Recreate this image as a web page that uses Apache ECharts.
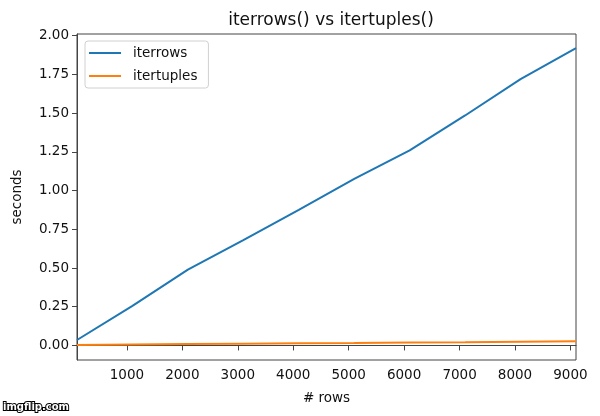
<!DOCTYPE html>
<html>
<head>
<meta charset="utf-8">
<script src="https://cdn.jsdelivr.net/npm/echarts@6/dist/echarts.min.js"></script>
<style>html,body{margin:0;padding:0;background:#fff;}#c{width:600px;height:416px;}</style>
</head>
<body>
<div id="c"></div>
<script>
var rows = [100, 1100, 2100, 3100, 4100, 5100, 6100, 7100, 8100, 9100];
var iterrows = [0.035, 0.255, 0.49, 0.68, 0.875, 1.075, 1.26, 1.485, 1.72, 1.92];
var itertuples = [0.003, 0.006, 0.009, 0.011, 0.014, 0.016, 0.019, 0.021, 0.024, 0.027];
var xTicks = [1000, 2000, 3000, 4000, 5000, 6000, 7000, 8000, 9000];
var yTicks = [0, 0.25, 0.5, 0.75, 1.0, 1.25, 1.5, 1.75, 2.0];

function pairs(xs, ys) { return xs.map(function (x, i) { return [x, ys[i]]; }); }

var font = 'DejaVu Sans';
var chart = echarts.init(document.getElementById('c'), null, {renderer: 'canvas'});
chart.setOption({
  animation: false,
  backgroundColor: '#fff',
  title: {
    text: 'iterrows() vs itertuples()',
    left: 326, top: 7, textAlign: 'center',
    textStyle: {fontFamily: font, fontSize: 17, fontWeight: 'normal', color: '#111'}
  },
  grid: {left: 77, right: 24, top: 34, bottom: 56, show: true, borderColor: '#444', borderWidth: 1, backgroundColor: 'transparent'},
  legend: {
    orient: 'vertical', left: 85, top: 41,
    padding: [5, 11, 5, 4],
    itemWidth: 32, itemHeight: 14, itemGap: 9,
    borderColor: '#d0d0d0', borderWidth: 1, borderRadius: 3,
    textStyle: {fontFamily: font, fontSize: 13.5, color: '#111', padding: [0, 0, 0, 7]},
    data: [{name: 'iterrows', icon: 'path://M0,0L32,0L32,2L0,2Z'}, {name: 'itertuples', icon: 'path://M0,0L32,0L32,2L0,2Z'}]
  },
  xAxis: {
    type: 'value', min: 100, max: 9100,
    name: '# rows', nameLocation: 'middle', nameGap: 31,
    nameTextStyle: {fontFamily: font, fontSize: 13.5, color: '#111'},
    axisLine: {show: true, lineStyle: {color: '#444', width: 1}},
    axisTick: {show: true, length: 5, lineStyle: {color: '#444'}, customValues: xTicks},
    axisLabel: {fontFamily: font, fontSize: 13.5, color: '#111', margin: 8, customValues: xTicks,
      formatter: function (v) { return String(Math.round(v)); }},
    splitLine: {show: false}
  },
  yAxis: {
    type: 'value', min: -0.094, max: 2.011,
    name: 'seconds', nameLocation: 'middle', nameGap: 53, nameRotate: 90,
    nameTextStyle: {fontFamily: font, fontSize: 13.5, color: '#111'},
    axisLine: {show: true, lineStyle: {color: '#444', width: 1}},
    axisTick: {show: true, length: 5, lineStyle: {color: '#444'}, customValues: yTicks},
    axisLabel: {fontFamily: font, fontSize: 13.5, color: '#111', margin: 8, customValues: yTicks,
      formatter: function (v) { return v.toFixed(2); }},
    splitLine: {show: false}
  },
  series: [
    {name: 'iterrows', type: 'line', data: pairs(rows, iterrows), showSymbol: false, symbol: 'none',
     color: '#1f77b4', lineStyle: {width: 2, color: '#1f77b4'}},
    {name: 'itertuples', type: 'line', data: pairs(rows, itertuples), showSymbol: false, symbol: 'none',
     color: '#ff7f0e', lineStyle: {width: 2, color: '#ff7f0e'}}
  ],
  graphic: [{
    type: 'text', left: 2, top: 401,
    style: {text: 'imgflip.com', font: 'bold 10px "DejaVu Sans"', fill: '#fff', stroke: '#000', lineWidth: 2}
  }]
});
</script>
</body>
</html>
